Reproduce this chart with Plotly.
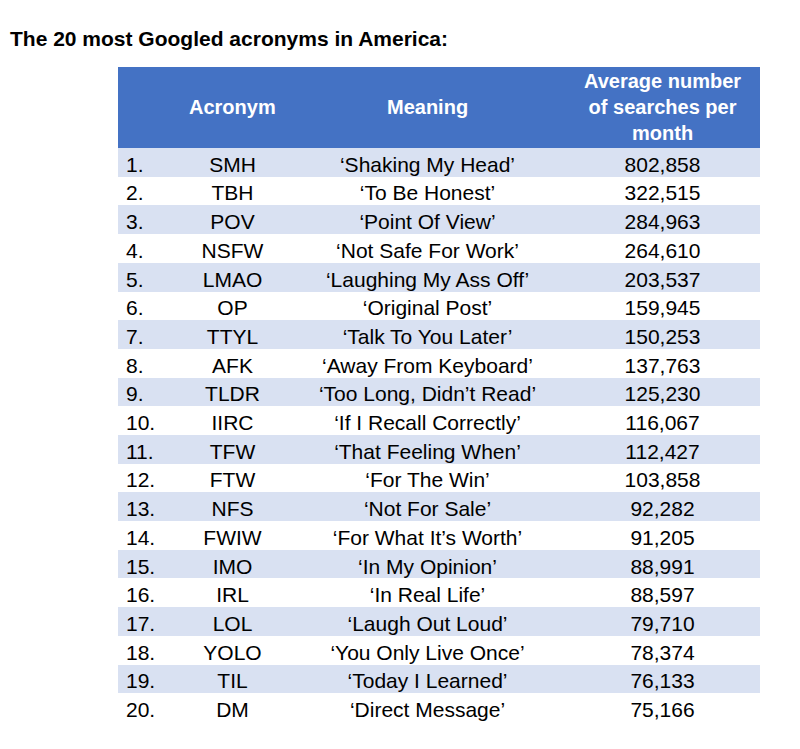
import plotly.graph_objects as go

ranks = [f"{i}." for i in range(1, 21)]
acronyms = ["SMH","TBH","POV","NSFW","LMAO","OP","TTYL","AFK","TLDR","IIRC","TFW","FTW","NFS","FWIW","IMO","IRL","LOL","YOLO","TIL","DM"]
meanings = ["‘Shaking My Head’","‘To Be Honest’","‘Point Of View’","‘Not Safe For Work’","‘Laughing My Ass Off’",
            "‘Original Post’","‘Talk To You Later’","‘Away From Keyboard’","‘Too Long, Didn’t Read’","‘If I Recall Correctly’",
            "‘That Feeling When’","‘For The Win’","‘Not For Sale’","‘For What It’s Worth’","‘In My Opinion’",
            "‘In Real Life’","‘Laugh Out Loud’","‘You Only Live Once’","‘Today I Learned’","‘Direct Message’"]
searches = [802858,322515,284963,264610,203537,159945,150253,137763,125230,116067,
            112427,103858,92282,91205,88991,88597,79710,78374,76133,75166]
headers = ["", "Acronym", "Meaning", "Average number<br>of searches per<br>month"]

W, H = 800, 749
OFF = 8  # page body margin
fills = ["#D9E1F2" if i % 2 == 0 else "#FFFFFF" for i in range(20)]
colw = [57, 115, 275, 195]
x0 = 118

fig = go.Figure(go.Table(
    domain=dict(x=[(x0-OFF)/W, (760-OFF)/W], y=[0, 1-(67-OFF)/H]),
    columnwidth=colw,
    header=dict(values=[""]*4,
                fill_color="#4472C4", line=dict(color="#4472C4", width=0),
                height=81),
    cells=dict(values=[ranks, acronyms, meanings, [f"{v:,}" for v in searches]],
               fill_color=[fills]*4, line=dict(color=[fills]*4, width=0),
               font=dict(color="black", size=21, family="Liberation Sans"),
               align=["left", "center", "center", "center"], height=28.7),
))
left = x0
for w, h in zip(colw, headers):
    if h:
        fig.add_annotation(text=f"<b>{h}</b>", xref="paper", yref="paper",
                           x=(left + w/2 - OFF)/W, y=1-(107-OFF)/H, xanchor="center", yanchor="middle",
                           align="center", showarrow=False,
                           font=dict(size=20, family="Liberation Sans", color="white"))
    left += w
fig.add_annotation(text="<b>The 20 most Googled acronyms in America:</b>", xref="paper", yref="paper",
                   x=0, y=1-(38-OFF)/H, xanchor="left", yanchor="middle", showarrow=False,
                   font=dict(size=21, family="Liberation Sans", color="black"))
fig.update_layout(width=W, height=H, margin=dict(l=0, r=0, t=0, b=0),
                  paper_bgcolor="white", plot_bgcolor="white")
fig.write_html("out.html")
